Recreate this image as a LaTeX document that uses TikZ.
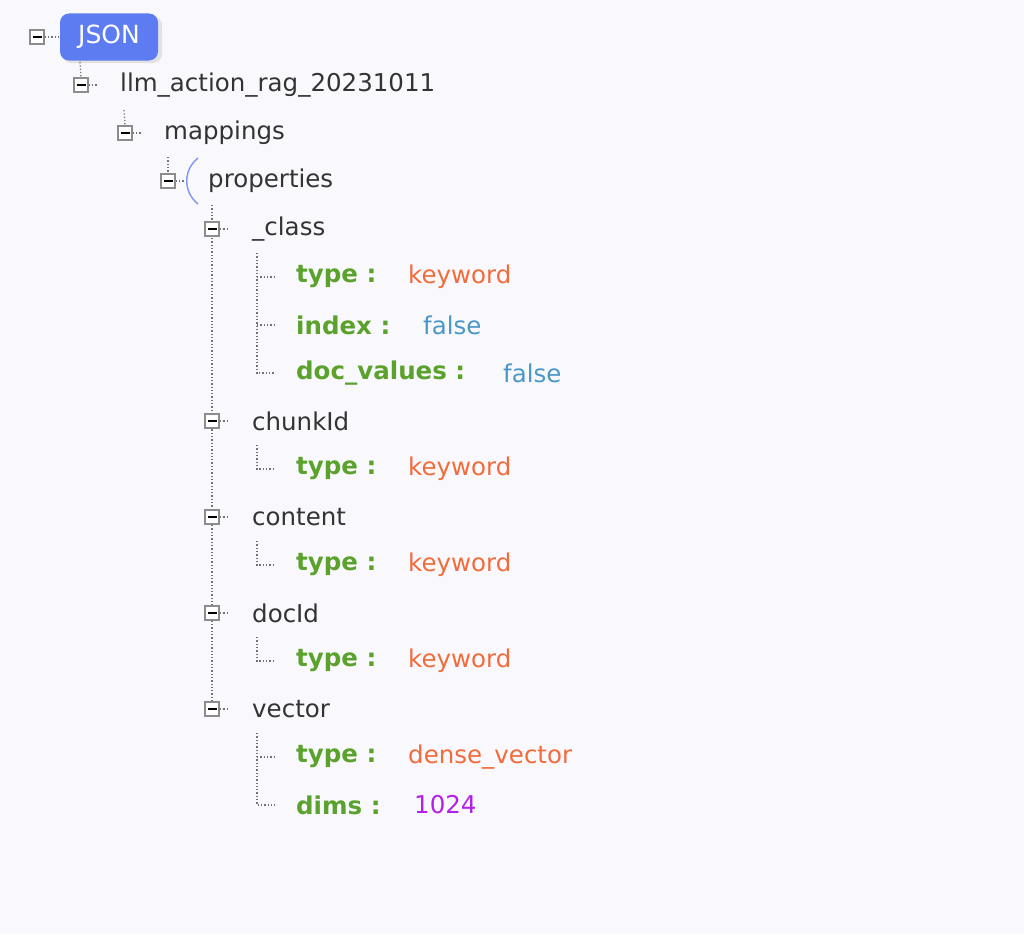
\documentclass[tikz,border=0pt]{standalone}
\usepackage{fontspec}
\setmainfont{DejaVu Sans}
\definecolor{bg}{HTML}{F9F9FD}
\definecolor{kc}{HTML}{5BA22D}
\definecolor{oc}{HTML}{F26B3A}
\definecolor{bc}{HTML}{4A97C6}
\definecolor{pc}{HTML}{B320E6}
\definecolor{tc}{HTML}{333333}
\definecolor{jb}{HTML}{5D7CF2}
\begin{document}
\begin{tikzpicture}[x=1pt,y=-1pt,
  tog/.style={draw=gray!90,line width=1.5pt,fill=white,minimum size=14pt,inner sep=0pt},
  lbl/.style={anchor=west,inner sep=0pt,text=tc,font=\fontsize{24.5}{28}\selectfont},
  key/.style={anchor=west,inner sep=0pt,text=kc,font=\fontsize{24.5}{28}\selectfont\bfseries},
  dot/.style={draw=gray!90!black,dotted,line width=1.3pt}]
\fill[bg] (0,0) rectangle (1024,934);
\useasboundingbox (0,0) rectangle (1024,934);
\newcommand\tg[3]{\node[tog] (#1) at (#2,#3) {}; \draw[line width=2pt] (#2-4.5,#3) -- (#2+4.5,#3);}
% JSON
\fill[gray!40,opacity=0.5,rounded corners=9pt] (62,16) rectangle (162,63);
\node[fill=jb,rounded corners=9pt,minimum width=98pt,minimum height=47pt,inner sep=0pt,text=white,font=\fontsize{25}{28}\selectfont] (json) at (109,37) {JSON};
\tg{t0}{37}{37}
\draw[dot] (t0.east) -- (json.west);
\tg{t1}{81}{85}
\node[lbl] (n1) at (120,85) {llm\_action\_rag\_20231011};
\draw[dot] (t1.east) -- +(8,0);
\draw[dot] (80,62) -- (t1.north);
\tg{t2}{125}{133}
\node[lbl] (n2) at (164,133) {mappings};
\draw[dot] (t2.east) -- +(8,0);
\draw[dot] (124,110) -- (t2.north);
\tg{t3}{168}{181}
\node[lbl] (n3) at (208,181) {properties};
\draw[dot] (t3.east) -- +(8,0);
\draw[dot] (168,157) -- (t3.north);
\draw[jb!80,line width=1.4pt] (198,158) .. controls (183,170) and (183,192) .. (198,204);
% children
\draw[dot] (212,205) -- (212,709);
\foreach \y/\t in {229/\_class,421/chunkId,517/content,613/docId,709/vector}{
  \node[tog] at (212,\y) {}; \draw[line width=2pt] (207.5,\y) -- (216.5,\y);
  \draw[dot] (220,\y) -- (228,\y);
  \node[lbl] at (252,\y) {\t};}
% leaf connectors
\draw[dot] (257,253) -- (257,373) -- (275,373);
\draw[dot] (257,277) -- (275,277); \draw[dot] (257,325) -- (275,325);
\draw[dot] (257,445) -- (257,469) -- (275,469);
\draw[dot] (257,541) -- (257,565) -- (275,565);
\draw[dot] (257,637) -- (257,661) -- (275,661);
\draw[dot] (257,733) -- (257,805) -- (275,805); \draw[dot] (257,757) -- (275,757);
\newcommand\kv[5]{\node[key] (k#1) at (296,#1) {#2}; \node[anchor=west,inner sep=0pt,text=#4,font=\fontsize{24.5}{28}\selectfont] (v#1) at (#3,#1) {#5};}
\kv{277}{type :}{408}{oc}{keyword}
\kv{325}{index :}{423}{bc}{false}
\kv{373}{doc\_values :}{503}{bc}{false}
\kv{469}{type :}{408}{oc}{keyword}
\kv{565}{type :}{408}{oc}{keyword}
\kv{661}{type :}{408}{oc}{keyword}
\kv{757}{type :}{408}{oc}{dense\_vector}
\kv{805}{dims :}{414}{pc}{1024}
\end{tikzpicture}
\end{document}
